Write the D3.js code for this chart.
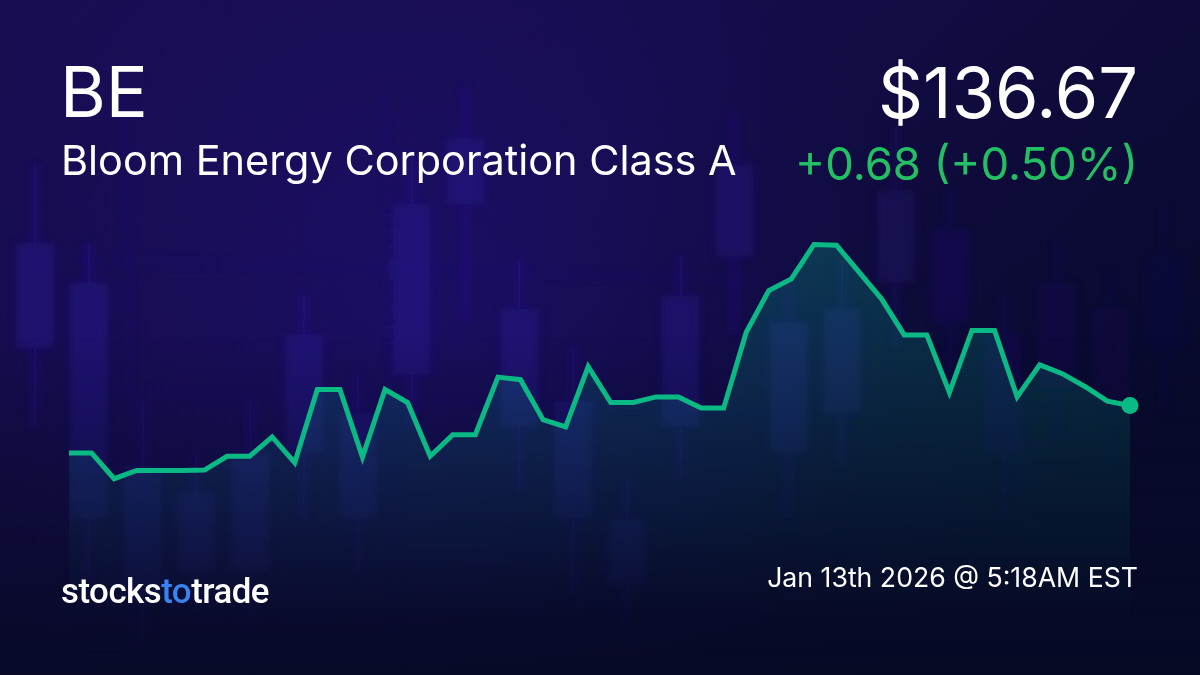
<!DOCTYPE html>
<html>
<head>
<meta charset="utf-8">
<script src="https://cdn.jsdelivr.net/npm/d3@7"></script>
<style>
  html, body { margin: 0; padding: 0; background: #0b0b33; }
  svg { display: block; }
</style>
</head>
<body>
<svg></svg>
<script>
/*
*  DATA
*/
let ticker = 'BE',
    company = 'Bloom Energy Corporation Class A',
    lastPrice = '$136.67',
    change = '+0.68 (+0.50%)',
    stamp = 'Jan 13th 2026 @ 5:18AM EST'

// intraday prices
let prices = [
  134.30, 134.30, 133.01, 133.42, 133.42, 133.42, 133.44, 134.13, 134.13, 135.10,
  133.81, 137.47, 137.47, 134.09, 137.47, 136.82, 134.13, 135.21, 135.21, 138.09,
  137.96, 135.96, 135.60, 138.61, 136.82, 136.82, 137.10, 137.10, 136.54, 136.54,
  140.33, 142.42, 143.00, 144.72, 144.68, 143.34, 141.99, 140.20, 140.20, 137.32,
  140.42, 140.42, 137.10, 138.70, 138.26, 137.62, 136.89, 136.67
]

// faint candles in the backdrop: open, close, high, low (arbitrary units)
let bgOpen  = [72, 66, 38, 22, 40, 58, 30, 52, 78, 62, 48, 30, 44, 70, 60, 46, 66, 74, 58, 50, 62, 56]
let bgClose = [56, 30, 18, 34, 22, 40, 46, 78, 88, 44, 30, 20, 64, 84, 40, 62, 80, 60, 40, 66, 48, 70]
let bgHigh  = [84, 72, 48, 40, 48, 64, 52, 86, 96, 70, 56, 36, 70, 92, 66, 70, 90, 80, 64, 72, 68, 78]
let bgLow   = [44, 20, 10, 16, 14, 30, 22, 44, 60, 34, 18, 12, 36, 58, 30, 38, 56, 50, 30, 42, 38, 46]

/*
*  RUN
*/
let width = 1200,
    height = 675

let svg = d3.select('svg').attr('width', width).attr('height', height)
let defs = svg.append('defs')

drawBackground()
drawChart()
drawTexts()

/*
*  HELPERS
*/
function drawBackground(){
  let bg = defs.append('linearGradient').attr('id', 'bg')
    .attr('x1', 0).attr('y1', 0).attr('x2', 1).attr('y2', 0.6)
  bg.append('stop').attr('offset', 0).attr('stop-color', '#180d52')
  bg.append('stop').attr('offset', 0.45).attr('stop-color', '#140c48')
  bg.append('stop').attr('offset', 1).attr('stop-color', '#080a2c')

  let glow = defs.append('radialGradient').attr('id', 'glow')
    .attr('gradientUnits', 'userSpaceOnUse')
    .attr('cx', 430).attr('cy', 280).attr('r', 480)
  glow.append('stop').attr('offset', 0).attr('stop-color', '#2a14a0').attr('stop-opacity', 0.3)
  glow.append('stop').attr('offset', 1).attr('stop-color', '#2a14a0').attr('stop-opacity', 0)

  let fade = defs.append('linearGradient').attr('id', 'fade')
    .attr('x1', 0).attr('y1', 0).attr('x2', 0).attr('y2', 1)
  fade.append('stop').attr('offset', 0.5).attr('stop-color', '#060a24').attr('stop-opacity', 0)
  fade.append('stop').attr('offset', 1).attr('stop-color', '#060a24').attr('stop-opacity', 0.9)

  defs.append('filter').attr('id', 'soft')
    .attr('x', -0.2).attr('y', -0.2).attr('width', 1.4).attr('height', 1.4)
    .append('feGaussianBlur').attr('stdDeviation', 4)

  svg.append('rect').attr('width', width).attr('height', height).attr('fill', 'url(#bg)')
  svg.append('rect').attr('width', width).attr('height', height).attr('fill', 'url(#glow)')

  // backdrop candlesticks
  let idx = d3.range(bgOpen.length)
  let bx = d3.scaleBand().domain(idx).range([0, width]).padding(0.3)
  let by = d3.scaleLinear().domain([0, 100]).range([height + 40, 60])
  let op = d3.scaleLinear().domain([0, 12, 21]).range([0.3, 0.26, 0.06])

  let c = svg.append('g').attr('class', 'candles').attr('filter', 'url(#soft)')
  let cs = c.selectAll('g').data(idx).enter().append('g')
    .attr('opacity', i => op(i))
  cs.append('line')
    .attr('x1', i => bx(i) + bx.bandwidth() / 2)
    .attr('x2', i => bx(i) + bx.bandwidth() / 2)
    .attr('y1', i => by(bgHigh[i]))
    .attr('y2', i => by(bgLow[i]))
    .attr('stroke', '#3a22c0').attr('stroke-width', 6)
  cs.append('rect')
    .attr('x', i => bx(i))
    .attr('width', bx.bandwidth())
    .attr('y', i => by(Math.max(bgOpen[i], bgClose[i])))
    .attr('height', i => Math.abs(by(bgOpen[i]) - by(bgClose[i])))
    .attr('fill', '#3420b4')

  // faint dotted grid
  let gy = d3.scaleLinear().domain([0, 4]).range([130, 650])
  c.selectAll('.hgrid').data([1, 2]).enter().append('line')
    .attr('x1', 80).attr('x2', 760)
    .attr('y1', d => gy(d)).attr('y2', d => gy(d) + 20)
    .attr('stroke', '#3420b4').attr('stroke-width', 4)
    .attr('stroke-dasharray', '6 10').attr('opacity', 0.3)
  c.selectAll('.vgrid').data([0, 1]).enter().append('line')
    .attr('x1', d => 125 + d * 260).attr('x2', d => 135 + d * 265)
    .attr('y1', 100).attr('y2', 675)
    .attr('stroke', '#3420b4').attr('stroke-width', 4)
    .attr('stroke-dasharray', '6 10').attr('opacity', 0.3)

  svg.append('rect').attr('width', width).attr('height', height).attr('fill', 'url(#fade)')
}

function drawChart(){
  let x = d3.scaleLinear().domain([0, prices.length - 1]).range([69, 1130])
  let y = d3.scaleLinear().domain(d3.extent(prices)).range([478.7, 244.5])

  let area = defs.append('linearGradient').attr('id', 'area')
    .attr('gradientUnits', 'userSpaceOnUse')
    .attr('x1', 0).attr('y1', 240).attr('x2', 0).attr('y2', 620)
  area.append('stop').attr('offset', 0).attr('stop-color', '#00b884').attr('stop-opacity', 0.26)
  area.append('stop').attr('offset', 1).attr('stop-color', '#00b884').attr('stop-opacity', 0)

  svg.append('path')
    .datum(prices)
    .attr('d', d3.area().x((d, i) => x(i)).y0(630).y1(d => y(d)))
    .attr('fill', 'url(#area)')

  svg.append('path')
    .datum(prices)
    .attr('d', d3.line().x((d, i) => x(i)).y(d => y(d)))
    .attr('fill', 'none')
    .attr('stroke', '#0bb985')
    .attr('stroke-width', 5)
    .attr('stroke-linejoin', 'miter')

  let last = prices.length - 1
  svg.append('circle')
    .attr('cx', x(last)).attr('cy', y(prices[last]))
    .attr('r', 8.5).attr('fill', '#0bb985')
}

// shrink or grow a text so it spans the wanted width
function fit(t, w){
  let size = parseFloat(t.attr('font-size'))
  let len = t.node().getComputedTextLength()
  t.attr('font-size', size * w / len)
}

function drawTexts(){
  let font = 'Inter, "DejaVu Sans", sans-serif'
  let g = svg.append('g').attr('font-family', font)

  let t1 = g.append('text').text(ticker)
    .attr('x', 60).attr('y', 117)
    .attr('font-size', 66).attr('fill', '#fff')
  fit(t1, 88)

  let t2 = g.append('text').text(company)
    .attr('x', 61).attr('y', 175)
    .attr('font-size', 34).attr('fill', '#fff')
  fit(t2, 676)

  let t3 = g.append('text').text(lastPrice)
    .attr('x', 1138).attr('y', 118).attr('text-anchor', 'end')
    .attr('font-size', 68).attr('fill', '#fff')
  fit(t3, 260)

  let t4 = g.append('text').text(change)
    .attr('x', 1138).attr('y', 180).attr('text-anchor', 'end')
    .attr('font-size', 38).attr('fill', '#22c063')
  fit(t4, 343)

  let t5 = g.append('text').text(stamp)
    .attr('x', 1138).attr('y', 587).attr('text-anchor', 'end')
    .attr('font-size', 24).attr('fill', '#fff')
  fit(t5, 371)

  let logo = svg.append('text')
    .attr('x', 61).attr('y', 603)
    .attr('font-family', 'Roboto, sans-serif')
    .attr('font-weight', 500)
    .attr('font-size', 30).attr('fill', '#fff')
    .attr('letter-spacing', -0.5)
  logo.append('tspan').text('stocks')
  logo.append('tspan').text('to').attr('fill', '#3b82f0')
  logo.append('tspan').text('trade')
  fit(logo, 207)
}
</script>
</body>
</html>
